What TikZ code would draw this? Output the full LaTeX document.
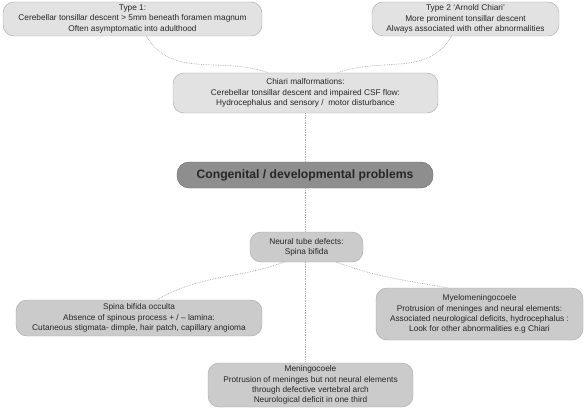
\documentclass[tikz,border=0pt]{standalone}
\usepackage{fontspec}
\setmainfont{Liberation Sans}
\definecolor{boxlight}{HTML}{E2E2E2}
\definecolor{boxmid}{HTML}{CBCBCB}
\definecolor{boxdark}{HTML}{8E8E8E}
\definecolor{linkgray}{HTML}{ABABAB}
\usetikzlibrary{positioning,calc}

\begin{document}
\begin{tikzpicture}[x=1pt,y=-1pt,
  topic/.style={draw=gray!70, fill=boxlight, rounded corners=11pt, align=center,
    inner sep=1pt, text=black!85, font=\fontsize{8.3}{10.2}\selectfont},
  subtopic/.style={topic, fill=boxmid},
  mainbox/.style={draw=black!60, fill=boxdark, rounded corners=12pt, align=center,
    font=\fontsize{12.2}{14}\selectfont\bfseries, text=black!85},
  link/.style={linkgray, densely dotted, line width=0.7pt}]
\useasboundingbox (0,0) rectangle (585,409);
% top branch
\node[topic, minimum width=259pt, minimum height=34pt] (type1) at (132.5,19)
  {Type 1:\\Cerebellar tonsillar descent > 5mm beneath foramen magnum\\Often asymptomatic into adulthood};
\node[topic, minimum width=187pt, minimum height=34pt] (type2) at (465.5,19)
  {Type 2 `Arnold Chiari'\\More prominent tonsillar descent\\Always associated with other abnormalities};
\node[topic, minimum width=265pt, minimum height=40pt] (chiari) at (305.5,93)
  {Chiari malformations:\\Cerebellar tonsillar descent and impaired CSF flow:\\Hydrocephalus and sensory /\ \ motor disturbance};
% centre
\node[mainbox, minimum width=256pt, minimum height=26pt] (congen) at (305,175)
  {Congenital / developmental problems};
% bottom branch
\node[subtopic, minimum width=113pt, minimum height=30pt] (ntd) at (306.5,247)
  {Neural tube defects:\\Spina bifida};
\node[subtopic, minimum width=246pt, minimum height=36pt] (occulta) at (139,318)
  {Spina bifida occulta\\Absence of spinous process + / -- lamina:\\Cutaneous stigmata- dimple, hair patch, capillary angioma};
\node[subtopic, minimum width=207pt, minimum height=52pt] (myelo) at (479.5,314)
  {Myelomeningocoele\\Protrusion of meninges and neural elements:\\Associated neurological deficits, hydrocephalus :\\Look for other abnormalities e.g Chiari};
\node[subtopic, minimum width=205pt, minimum height=44pt] (meningo) at (310.5,385)
  {Meningocoele\\Protrusion of meninges but not neural elements\\through defective vertebral arch\\Neurological deficit in one third};
% links
\draw[link] ($(type1.south)+(14,0)$) to[out=-60,in=160] ($(chiari.north)+(-37,0)$);
\draw[link] ($(type2.south)+(-14,0)$) to[out=-120,in=20] ($(chiari.north)+(32,0)$);
\draw[link] (chiari.south) -- (congen.north -| chiari.south);
\draw[link] (congen.south) -- (ntd.north -| congen.south);
\draw[link] ($(ntd.south)+(-23,0)$) to[out=-160,in=30] ($(occulta.north)+(18,0)$);
\draw[link] ($(ntd.south)+(30,0)$) to[out=-20,in=170] ($(myelo.north)+(-32,0)$);
\draw[link] (ntd.south -| congen.south) -- (meningo.north -| congen.south);
\end{tikzpicture}
\end{document}
